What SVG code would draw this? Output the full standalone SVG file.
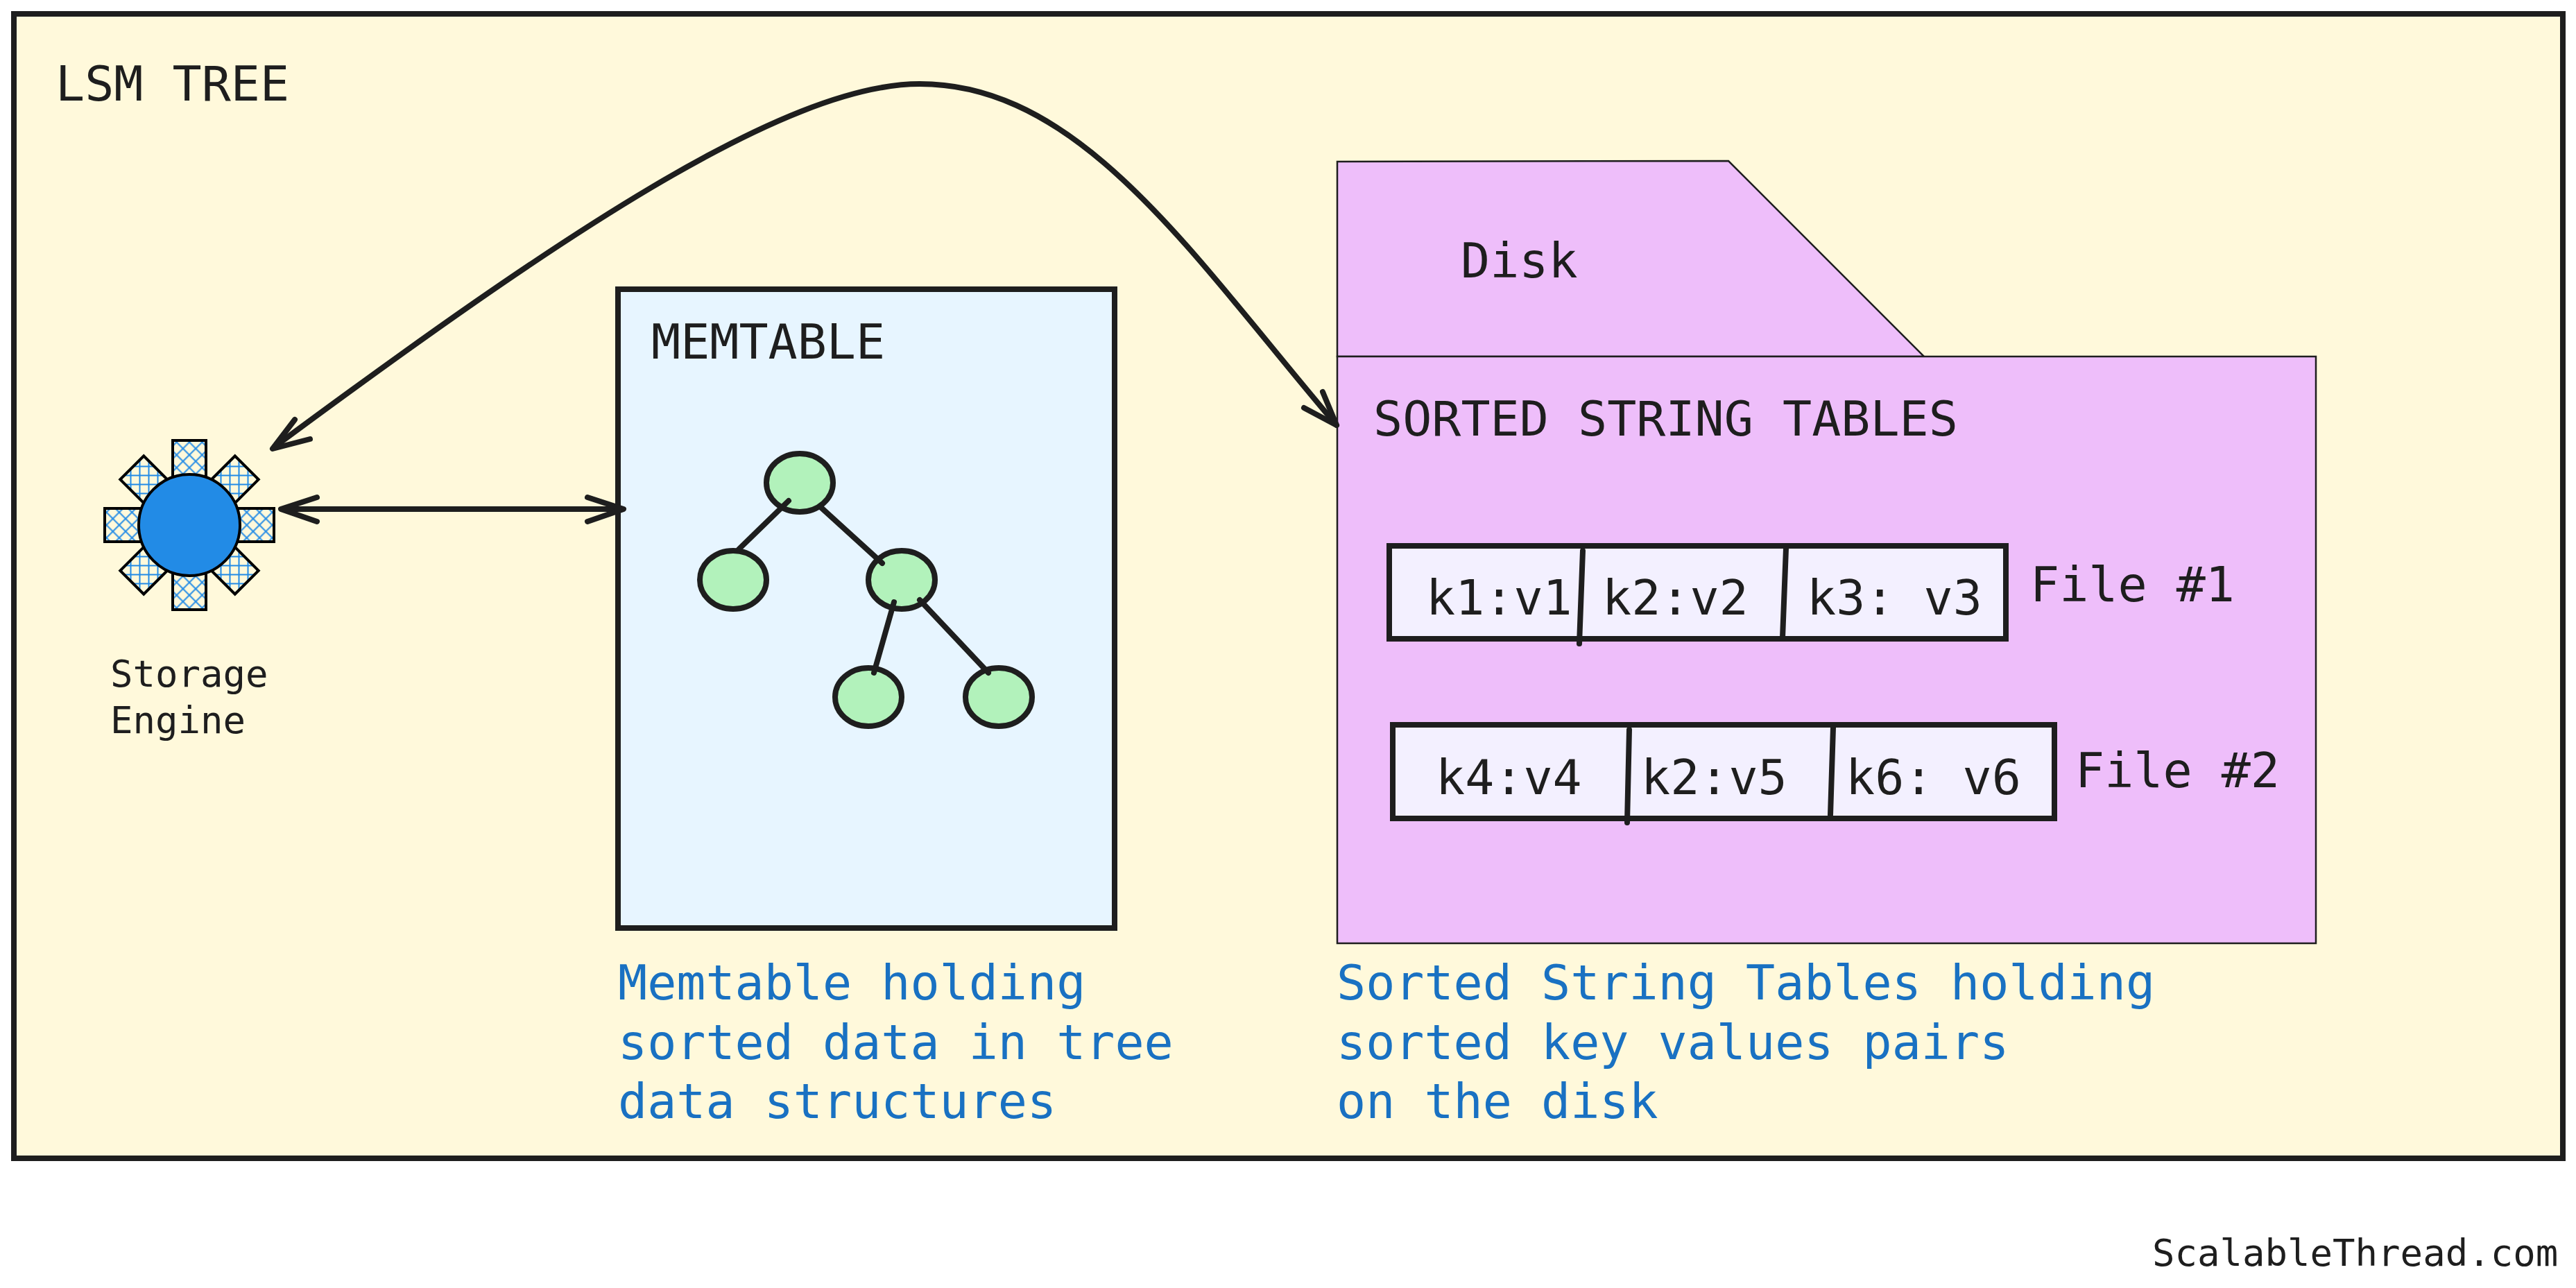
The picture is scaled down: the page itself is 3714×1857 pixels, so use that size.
<svg xmlns="http://www.w3.org/2000/svg" width="3714" height="1857" viewBox="0 0 3714 1857">
<style>
text{font-family:"DejaVu Sans Mono","Liberation Mono",monospace;font-size:70px;fill:#1e1e1e}
.blue{fill:#1971c2}
.sm{font-size:54px}
.edge{fill:none;stroke:#1e1e1e;stroke-width:8;stroke-linecap:round;stroke-linejoin:round}
.node{fill:#b2f2bb;stroke:#1e1e1e;stroke-width:8}
.cell{fill:#f3f0ff;stroke:#1e1e1e;stroke-width:8}
.disk{fill:#eebefa;stroke:#1e1e1e;stroke-width:2.5}
.tooth{fill:url(#hatch);stroke:#000;stroke-width:4}
</style>
<defs>
<pattern id="hatch" width="13" height="13" patternUnits="userSpaceOnUse" patternTransform="rotate(45)">
<path d="M0 6.5H13M6.5 0V13" stroke="#228be6" stroke-width="2" fill="none"/>
</pattern>
</defs>
<rect width="3714" height="1857" fill="#ffffff"/>
<g id="lsm-tree">
<rect x="20" y="20" width="3675" height="1650" fill="#fff9db" stroke="#1e1e1e" stroke-width="8"/>
<text x="80" y="145">LSM TREE</text>
</g>
<g id="storage-engine">
<g transform="translate(273 757)">
<rect class="tooth" x="-24" y="-122" width="48" height="244"/>
<rect class="tooth" x="-24" y="-122" width="48" height="244" transform="rotate(90)"/>
<rect class="tooth" x="-24" y="-117" width="48" height="234" transform="rotate(45)"/>
<rect class="tooth" x="-24" y="-117" width="48" height="234" transform="rotate(-45)"/>
<circle r="73" fill="#228be6" stroke="#000" stroke-width="4"/>
</g>
<text class="sm" x="159" y="990">Storage</text>
<text class="sm" x="159" y="1057">Engine</text>
</g>
<g id="memtable">
<rect x="891" y="417" width="716" height="921" fill="#e7f5ff" stroke="#1e1e1e" stroke-width="8"/>
<text x="939" y="517">MEMTABLE</text>
<ellipse class="node" cx="1153" cy="696" rx="48" ry="42"/>
<ellipse class="node" cx="1057" cy="836" rx="48" ry="42"/>
<ellipse class="node" cx="1300" cy="836" rx="48" ry="42"/>
<ellipse class="node" cx="1252" cy="1005" rx="48" ry="42"/>
<ellipse class="node" cx="1440" cy="1005" rx="48" ry="42"/>
<path class="edge" d="M1137 722L1065 792M1183 731L1272 812M1289 868L1260 970M1326 865L1425 970"/>
</g>
<g id="disk">
<path class="disk" d="M1928 233L2492 232L2774 514L1928 514Z"/>
<text x="2106" y="400">Disk</text>
</g>
<g id="sstables">
<rect class="disk" x="1928" y="514" width="1411" height="846"/>
<text x="1980" y="628">SORTED STRING TABLES</text>
</g>
<g id="file-1">
<rect class="cell" x="2003" y="787" width="889" height="134"/>
<path class="edge" d="M2282 794L2277 928M2575 791L2570 920"/>
<text x="2056" y="886">k1:v1</text>
<text x="2310" y="886">k2:v2</text>
<text x="2605" y="886">k3: v3</text>
<text x="2927" y="867">File #1</text>
</g>
<g id="file-2">
<rect class="cell" x="2008" y="1045" width="954" height="135"/>
<path class="edge" d="M2349 1052L2346 1186M2643 1049L2639 1175"/>
<text x="2070" y="1145">k4:v4</text>
<text x="2366" y="1145">k2:v5</text>
<text x="2661" y="1145">k6: v6</text>
<text x="2992" y="1135">File #2</text>
</g>
<g id="captions">
<text class="blue" x="891" y="1441">Memtable holding</text>
<text class="blue" x="891" y="1527">sorted data in tree</text>
<text class="blue" x="891" y="1612">data structures</text>
<text class="blue" x="1927" y="1441">Sorted String Tables holding</text>
<text class="blue" x="1927" y="1527">sorted key values pairs</text>
<text class="blue" x="1927" y="1612">on the disk</text>
<text class="sm" x="3103" y="1825">ScalableThread.com</text>
</g>
<g id="connectors">
<path class="edge" d="M396 644C800 345 1130 121 1326 121C1560 121 1720 370 1927 613"/>
<path class="edge" d="M425 605L393 647L447 633"/>
<path class="edge" d="M410 734H895"/>
<path class="edge" d="M457 717L405 734L457 752"/>
<path class="edge" d="M847 717L899 734L847 752"/>
<path class="edge" d="M1907 565L1927 613L1880 588"/>
</g>
</svg>
